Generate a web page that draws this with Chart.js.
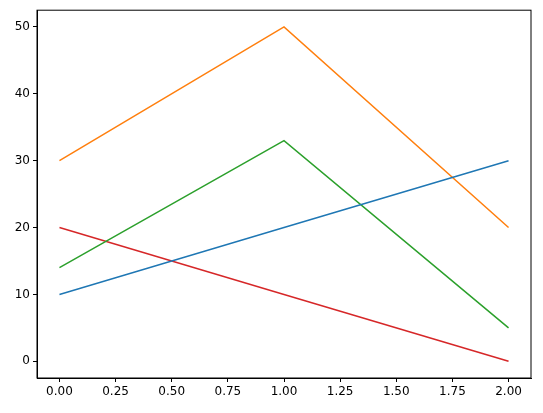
<!DOCTYPE html>
<html>
<head>
<script src="https://cdn.jsdelivr.net/npm/chart.js@4"></script>
<style>body{margin:0;background:#fff}</style>
</head>
<body>
<canvas id="c" width="543" height="413"></canvas>
<script>
const xValues = [0, 1, 2];
const blue = [10, 20, 30];
const orange = [30, 50, 20];
const green = [14, 33, 5];
const red = [20, 10, 0];
const xTicks = [0, 0.25, 0.5, 0.75, 1, 1.25, 1.5, 1.75, 2];
const yTicks = [0, 10, 20, 30, 40, 50];

const mk = (vals, color) => ({
    data: xValues.map((x, i) => ({x: x, y: vals[i]})),
    borderColor: color,
    borderWidth: 1.5,
    pointRadius: 0,
    tension: 0,
    fill: false
});

const font = {family: 'DejaVu Sans', size: 12};

new Chart(document.getElementById('c'), {
    type: 'line',
    data: {
        datasets: [
            mk(blue, '#1f77b4'),
            mk(orange, '#ff7f0e'),
            mk(green, '#2ca02c'),
            mk(red, '#d62728')
        ]
    },
    options: {
        responsive: false,
        animation: false,
        plugins: {legend: {display: false}, tooltip: {enabled: false}},
        layout: {padding: {left: 0, right: 12, top: 10, bottom: 0}},
        scales: {
            x: {
                type: 'linear',
                min: -0.1,
                max: 2.1,
                afterBuildTicks: s => { s.ticks = xTicks.map(v => ({value: v})); },
                afterFit: s => { s.height = 35; },
                grid: {drawOnChartArea: false, tickLength: 4, tickColor: '#000'},
                border: {color: '#000'},
                ticks: {color: '#000', font: font, maxRotation: 0, autoSkip: false,
                    callback: v => v.toFixed(2)}
            },
            y: {
                min: -2.5,
                max: 52.5,
                afterBuildTicks: s => { s.ticks = yTicks.map(v => ({value: v})); },
                afterFit: s => { s.width = 37; },
                grid: {drawOnChartArea: false, tickLength: 4, tickColor: '#000'},
                border: {color: '#000'},
                ticks: {color: '#000', font: font}
            }
        }
    },
    plugins: [{
        id: 'frame',
        afterDraw(chart) {
            const {ctx, chartArea: a} = chart;
            ctx.save();
            ctx.strokeStyle = '#000';
            ctx.lineWidth = 1;
            ctx.strokeRect(a.left, a.top, a.right - a.left, a.bottom - a.top);
            ctx.restore();
        }
    }]
});
</script>
</body>
</html>
